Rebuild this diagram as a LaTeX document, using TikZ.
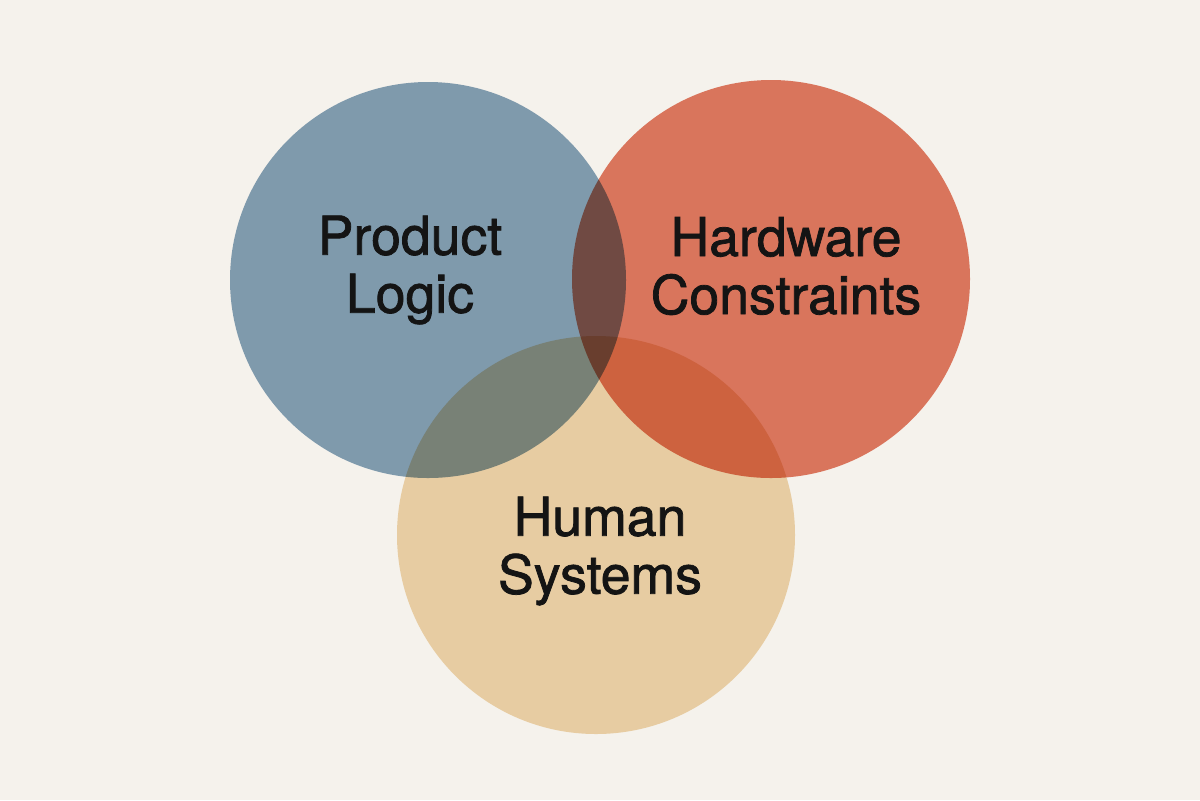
\documentclass[tikz,border=0pt]{standalone}
\usepackage{fontspec}
\setmainfont{TeX Gyre Heros}
\newfontfamily\setfont[FakeBold=1.4]{TeX Gyre Heros}
\definecolor{paper}{HTML}{F5F2EC}
% fills are multiplied with the paper, so they are set a little lighter
\definecolor{logicblue}{RGB}{133,163,186}
\definecolor{hardred}{RGB}{226,124,100}
\definecolor{humantan}{RGB}{241,215,176}
\definecolor{ink}{HTML}{141414}
\tikzset{
  setfill/.style={fill=#1, draw=none},
  setlabel/.style={align=center, text=ink, inner sep=0pt,
    font=\setfont\fontsize{30.5}{33}\selectfont}
}
\begin{document}
\begin{tikzpicture}[x=0.2mm,y=-0.2mm]
\fill[paper] (0,0) rectangle (1200,800);

\begin{scope}[blend mode=multiply]
\fill[setfill=logicblue] (428,280) circle (198);
\fill[setfill=hardred] (771,279) circle (199);
\fill[setfill=humantan] (596,535) circle (199);
\end{scope}

\node[setlabel] (logic) at (410,270) {Product\\Logic};
\node[setlabel] (hardware) at (786,266) {Hardware\\Constraints};
\node[setlabel] (human) at (600,551) {Human\\Systems};
\end{tikzpicture}
\end{document}
